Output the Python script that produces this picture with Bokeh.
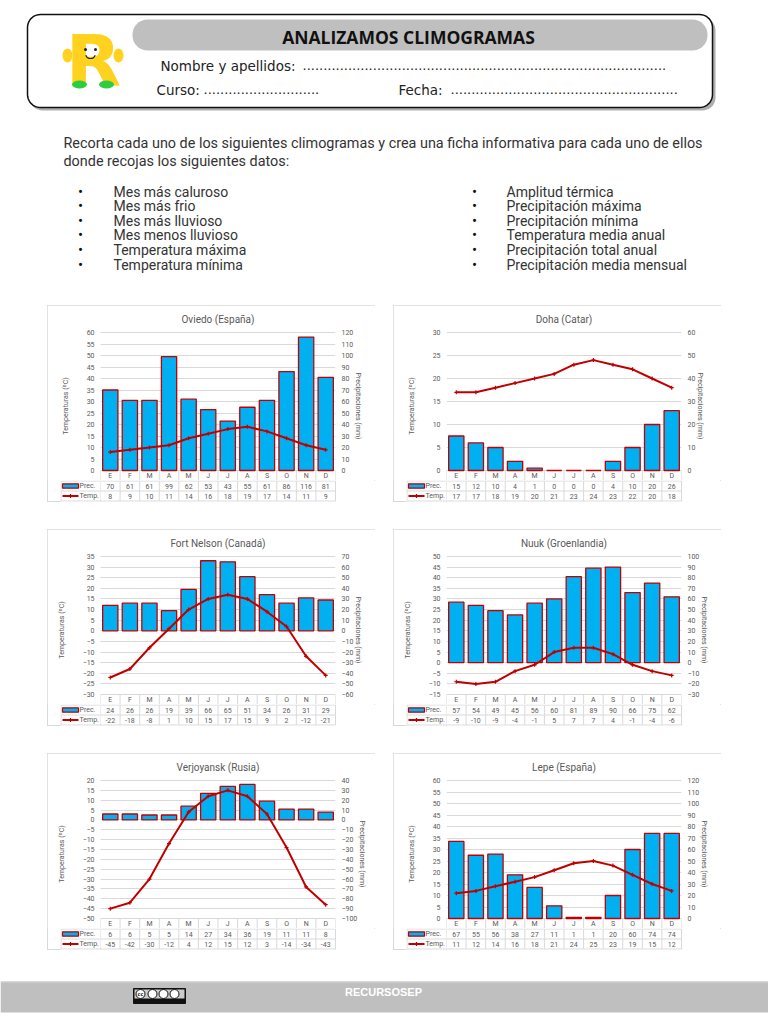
import math
from bokeh.plotting import figure
from bokeh.layouts import column, row
from bokeh.models import Range1d, LinearAxis, FixedTicker, Grid, Spacer
from bokeh.embed import file_html
from bokeh.resources import INLINE
from bokeh.core.properties import value

# ---------------- data ----------------
MONTHS = ["E", "F", "M", "A", "M", "J", "J", "A", "S", "O", "N", "D"]

OVIEDO_PREC = [70, 61, 61, 99, 62, 53, 43, 55, 61, 86, 116, 81]
OVIEDO_TEMP = [8, 9, 10, 11, 14, 16, 18, 19, 17, 14, 11, 9]
OVIEDO_AXIS = [0, 60]

DOHA_PREC = [15, 12, 10, 4, 1, 0, 0, 0, 4, 10, 20, 26]
DOHA_TEMP = [17, 17, 18, 19, 20, 21, 23, 24, 23, 22, 20, 18]
DOHA_AXIS = [0, 30]

FORTNELSON_PREC = [24, 26, 26, 19, 39, 66, 65, 51, 34, 26, 31, 29]
FORTNELSON_TEMP = [-22, -18, -8, 1, 10, 15, 17, 15, 9, 2, -12, -21]
FORTNELSON_AXIS = [-30, 35]

NUUK_PREC = [57, 54, 49, 45, 56, 60, 81, 89, 90, 66, 75, 62]
NUUK_TEMP = [-9, -10, -9, -4, -1, 5, 7, 7, 4, -1, -4, -6]
NUUK_AXIS = [-15, 50]

VERJOYANSK_PREC = [6, 6, 5, 5, 14, 27, 34, 36, 19, 11, 11, 8]
VERJOYANSK_TEMP = [-45, -42, -30, -12, 4, 12, 15, 12, 3, -14, -34, -43]
VERJOYANSK_AXIS = [-50, 20]

LEPE_PREC = [67, 55, 56, 38, 27, 11, 1, 1, 20, 60, 74, 74]
LEPE_TEMP = [11, 12, 14, 16, 18, 21, 24, 25, 23, 19, 15, 12]
LEPE_AXIS = [0, 60]

TITLES = ["Oviedo (España)", "Doha (Catar)", "Fort Nelson (Canadá)",
          "Nuuk (Groenlandia)", "Verjoyansk (Rusia)", "Lepe (España)"]

INTRO = ["Recorta cada uno de los siguientes climogramas y crea una ficha informativa para cada uno de ellos",
         "donde recojas los siguientes datos:"]
LEFT_ITEMS = ["Mes más caluroso", "Mes más frio", "Mes más lluvioso", "Mes menos lluvioso",
              "Temperatura máxima", "Temperatura mínima"]
RIGHT_ITEMS = ["Amplitud térmica", "Precipitación máxima", "Precipitación mínima",
               "Temperatura media anual", "Precipitación total anual", "Precipitación media mensual"]

# ---------------- style ----------------
TXT = "#595959"
GRID = "#d9d9d9"
BLUE = "#00B0F0"
RED = "#C00000"
FONT = "Roboto"

LB, RB = 53, 40      # borders of chart figure
FW = 235             # frame width (12 months)
TOP = 26
CH = 138             # chart height in px
ROW = 10             # table row height
COLW = FW / 12.0
LEGW = 40            # legend column width


def style_axis(a, standoff):
    a.axis_line_color = None
    a.major_tick_line_color = None
    a.minor_tick_line_color = None
    a.major_tick_out = 0
    a.major_tick_in = 0
    a.major_label_text_font = FONT
    a.major_label_text_font_size = "7px"
    a.major_label_text_color = TXT
    a.major_label_standoff = 6
    a.axis_label_text_font = FONT
    a.axis_label_text_font_size = "7px"
    a.axis_label_text_font_style = "normal"
    a.axis_label_text_color = TXT
    a.axis_label_standoff = standoff


def small_fig(**kw):
    f = figure(x_axis_location=None, y_axis_location=None, toolbar_location=None,
               output_backend="svg", **kw)
    f.outline_line_color = None
    f.border_fill_color = "white"
    for g in f.grid:
        g.visible = False
    return f


def make_panel(title, prec, temp, lim):
    tmin, tmax = lim
    ppu = CH / float(tmax - tmin)
    ystart = tmin - ROW / ppu
    yend = tmax + 1.0 / ppu
    idx = list(range(len(MONTHS)))

    p = small_fig(frame_width=FW, frame_height=CH + ROW + 1,
                  min_border_left=LB, min_border_right=RB, min_border_top=TOP, min_border_bottom=0,
                  x_range=Range1d(-0.5, 11.5), y_range=Range1d(ystart, yend), title=title)
    p.title.align = "center"
    p.title.text_font = FONT
    p.title.text_font_size = "10px"
    p.title.text_font_style = "normal"
    p.title.text_color = TXT
    p.title.standoff = 13
    p.extra_y_ranges = {"prec": Range1d(2 * ystart, 2 * yend)}

    tticks = list(range(tmin, tmax + 1, 5))
    pticks = list(range(2 * tmin, 2 * tmax + 1, 10))
    p.add_layout(Grid(dimension=1, ticker=FixedTicker(ticks=tticks),
                      grid_line_color=GRID, grid_line_width=1))

    la = LinearAxis(ticker=FixedTicker(ticks=tticks), axis_label="Temperaturas (ºC)")
    ra = LinearAxis(y_range_name="prec", ticker=FixedTicker(ticks=pticks),
                    axis_label="Precipitaciones (mm)")
    style_axis(la, 14)
    style_axis(ra, -2)
    p.add_layout(la, "left")
    p.add_layout(ra, "right")

    p.vbar(x=idx, top=prec, bottom=0, width=0.78, y_range_name="prec",
           fill_color=BLUE, line_color=RED, line_width=1.3)
    p.line(idx, temp, line_color=RED, line_width=2)
    p.scatter(idx, temp, marker="cross", size=4, line_color=RED, line_width=1.2)

    # month row of the data table
    edges = [i - 0.5 for i in range(len(MONTHS) + 1)]
    p.segment(x0=edges, y0=[tmin] * len(edges), x1=edges, y1=[ystart] * len(edges),
              line_color=GRID, line_width=1)
    p.text(x=idx, y=[(tmin + ystart) / 2.0] * len(idx), text=MONTHS,
           text_font=value(FONT), text_font_size="7px", text_color=TXT,
           text_align="center", text_baseline="middle")

    # legend column of the table
    yr = (-0.5 / ROW, 2 + 0.5 / ROW)
    lg = small_fig(frame_width=LEGW, frame_height=2 * ROW + 1, min_border=0, min_border_bottom=1,
                   x_range=Range1d(0, LEGW), y_range=Range1d(*yr))
    lg.segment(x0=[0] * 3, y0=[0, 1, 2], x1=[LEGW] * 3, y1=[0, 1, 2], line_color=GRID)
    lg.segment(x0=[0.5], y0=[0], x1=[0.5], y1=[2], line_color=GRID)
    lg.quad(left=[2], right=[18], bottom=[1.5 - 0.22], top=[1.5 + 0.22],
            fill_color=BLUE, line_color=RED, line_width=1.2)
    lg.line([2, 18], [0.5, 0.5], line_color=RED, line_width=2)
    lg.scatter([10], [0.5], marker="cross", size=4, line_color=RED, line_width=1.2)
    lg.text(x=[19, 19], y=[1.5, 0.5], text=["Prec.", "Temp."], text_font=value(FONT),
            text_font_size="7px", text_color=TXT, text_align="left", text_baseline="middle")

    # values of the table
    t = small_fig(frame_width=FW + 1, frame_height=2 * ROW + 1,
                  min_border_left=0, min_border_right=RB - 1,
                  min_border_top=0, min_border_bottom=1,
                  x_range=Range1d(-0.5, 11.5 + 1.0 / COLW), y_range=Range1d(*yr))
    t.segment(x0=[-0.5] * 3, y0=[0, 1, 2], x1=[11.5] * 3, y1=[0, 1, 2], line_color=GRID)
    t.segment(x0=edges, y0=[0] * len(edges), x1=edges, y1=[2] * len(edges), line_color=GRID)
    t.text(x=idx, y=[1.5] * 12, text=[str(v) for v in prec], text_font=value(FONT),
           text_font_size="7px", text_color=TXT, text_align="center", text_baseline="middle")
    t.text(x=idx, y=[0.5] * 12, text=[str(v) for v in temp], text_font=value(FONT),
           text_font_size="7px", text_color=TXT, text_align="center", text_baseline="middle")

    table = row(Spacer(width=LB - LEGW, height=2 * ROW + 2), lg, t, spacing=0)
    return column(p, table, spacing=0,
                  styles={"outline": "1px solid #d9d9d9", "outline-offset": "-1px"})


def canvas(w, h, x0, y0):
    f = small_fig(width=w, height=h, x_range=Range1d(x0, x0 + w), y_range=Range1d(y0 + h, y0),
                  min_border=0)
    return f


def txt(f, x, y, s, size, color="#222222", font=FONT, style="normal", align="left"):
    f.text(x=[x], y=[y], text=[s], text_font=value(font), text_font_size=size,
           text_color=color, text_font_style=style, text_align=align, text_baseline="middle")


def rrect(x0, y0, x1, y1, r, n=10):
    xs, ys = [], []
    for cx, cy, a0, a1 in [(x1 - r, y0 + r, -90, 0), (x1 - r, y1 - r, 0, 90),
                           (x0 + r, y1 - r, 90, 180), (x0 + r, y0 + r, 180, 270)]:
        for k in range(n + 1):
            a = math.radians(a0 + (a1 - a0) * k / n)
            xs.append(cx + r * math.cos(a))
            ys.append(cy + r * math.sin(a))
    return xs, ys


# ---------------- header ----------------
hdr = canvas(768, 305, 0, 0)
sx, sy = rrect(29, 17, 715, 110, 13)
hdr.patch(sx, sy, fill_color="#9a9a9a", line_color=None, fill_alpha=0.8)
bx, by = rrect(27, 14, 712, 107, 13)
hdr.patch(bx, by, fill_color="white", line_color="#111111", line_width=1.5)
px_, py_ = rrect(132, 19, 707, 50, 15)
hdr.patch(px_, py_, fill_color="#bfbfbf", line_color=None)
txt(hdr, 408, 36, "ANALIZAMOS CLIMOGRAMAS", "17.5px", "#111111", "Open Sans", "bold", "center")
HF = "DejaVu Sans"
txt(hdr, 160, 65, "Nombre y apellidos:", "13.5px", "#222222", HF)
txt(hdr, 302, 65, "." * 88, "13px", "#222222", HF)
txt(hdr, 156, 89, "Curso:", "13.5px", "#222222", HF)
txt(hdr, 203, 89, "." * 28, "13px", "#222222", HF)
txt(hdr, 398, 89, "Fecha:", "13.5px", "#222222", HF)
txt(hdr, 450, 89, "." * 55, "13px", "#222222", HF)

# logo
hdr.ellipse(x=[67, 118], y=[55, 55], width=10, height=14, fill_color="#FFD21F", line_color=None)
txt(hdr, 93, 60, "R", "72px", "#FFD21F", "DejaVu Sans", "bold", "center")
hdr.ellipse(x=[79, 106], y=[84, 84], width=15, height=8, fill_color="#2ECC40", line_color=None)
hdr.scatter(x=[85, 95], y=[49, 49], size=3, fill_color="#222222", line_color=None)
hdr.arc(x=[90], y=[53], radius=5, start_angle=math.radians(200), end_angle=math.radians(340),
        line_color="#222222", line_width=1.2)

# instructions
txt(hdr, 63, 143, INTRO[0], "14.4px", "#333333")
txt(hdr, 63, 161, INTRO[1], "14.4px", "#333333")
ys = [191, 205.6, 220.2, 234.8, 249.4, 264]
for y, a, b in zip(ys, LEFT_ITEMS, RIGHT_ITEMS):
    txt(hdr, 80, y, "•", "15px", "#111111", align="center")
    txt(hdr, 113, y, a, "14px", "#333333")
    txt(hdr, 474, y, "•", "15px", "#111111", align="center")
    txt(hdr, 506, y, b, "14px", "#333333")

# ---------------- panels ----------------
P = [make_panel(TITLES[0], OVIEDO_PREC, OVIEDO_TEMP, OVIEDO_AXIS),
     make_panel(TITLES[1], DOHA_PREC, DOHA_TEMP, DOHA_AXIS),
     make_panel(TITLES[2], FORTNELSON_PREC, FORTNELSON_TEMP, FORTNELSON_AXIS),
     make_panel(TITLES[3], NUUK_PREC, NUUK_TEMP, NUUK_AXIS),
     make_panel(TITLES[4], VERJOYANSK_PREC, VERJOYANSK_TEMP, VERJOYANSK_AXIS),
     make_panel(TITLES[5], LEPE_PREC, LEPE_TEMP, LEPE_AXIS)]


def prow(a, b):
    return row(Spacer(width=47, height=10), a, Spacer(width=18, height=10), b, spacing=0)


# ---------------- footer ----------------
ftr = canvas(768, 70, 0, 950)
ftr.quad(left=[0], right=[768], top=[981], bottom=[1012], fill_color="#bfbfbf", line_color=None)
ftr.segment(x0=[0], y0=[981.5], x1=[768], y1=[981.5], line_color="#d4d4d4", line_width=1)
txt(ftr, 383, 991, "RECURSOSEP", "11px", "white", "Liberation Sans", "bold", "center")
ftr.quad(left=[133], right=[185], top=[988], bottom=[1003], fill_color="#111111", line_color="#111111")
ftr.quad(left=[134], right=[184], top=[989], bottom=[998], fill_color="#cccccc", line_color=None)
ftr.scatter(x=[140, 152, 163, 174], y=[993.5] * 4, size=9, fill_color="white",
            line_color="#111111", line_width=1)
txt(ftr, 140, 993.5, "cc", "5px", "#111111", "DejaVu Sans", "bold", "center")

layout = column(hdr, prow(P[0], P[1]), Spacer(width=10, height=27),
                prow(P[2], P[3]), Spacer(width=10, height=27),
                prow(P[4], P[5]), ftr, spacing=0)

open("out.html", "w").write(file_html(layout, INLINE))
